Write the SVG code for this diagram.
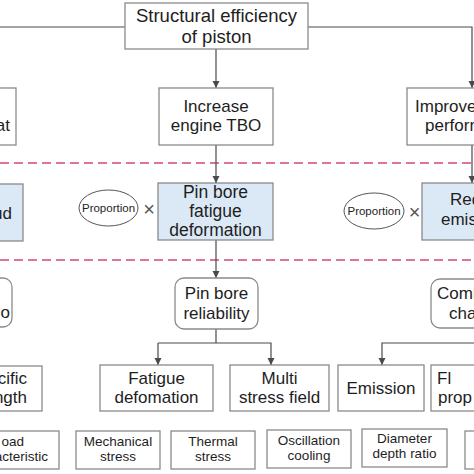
<svg xmlns="http://www.w3.org/2000/svg" width="474" height="474" viewBox="0 0 474 474">
<defs>
<marker id="arr" viewBox="0 0 10 10" refX="10" refY="5" markerWidth="7" markerHeight="9" orient="auto" markerUnits="userSpaceOnUse">
<path d="M0,0 L10,5 L0,10 z" fill="#4a4a4a"/>
</marker>
<style>
.box{fill:#fff;stroke:#8a8a8a;stroke-width:1.3}
.blue{fill:#dbe8f5;stroke:#8a8a8a;stroke-width:1.3}
.t{font-family:"Liberation Sans",Arial,sans-serif;font-size:17px;fill:#1e1e1e;text-anchor:middle}
.top{font-size:18.5px}
.s{font-size:13.5px}
.p{font-size:11.5px}
.st{text-anchor:start}
.en{text-anchor:end}
.c{fill:none;stroke:#4a4a4a;stroke-width:1.2}
.dash{fill:none;stroke:#d6486f;stroke-width:1.5;stroke-dasharray:9 5}
</style>
</defs>
<rect width="474" height="474" fill="#fff"/>
<g id="separators">
<line class="dash" x1="0" y1="163" x2="474" y2="163"/>
<line class="dash" x1="0" y1="260" x2="474" y2="260"/>
</g>
<g id="connectors">
<line class="c" x1="0" y1="27" x2="125" y2="27"/>
<polyline class="c" points="308,27 472,27 472,88" marker-end="url(#arr)"/>
<line class="c" x1="216" y1="49" x2="216" y2="88" marker-end="url(#arr)"/>
<line class="c" x1="216" y1="145" x2="216" y2="183" marker-end="url(#arr)"/>
<line class="c" x1="472" y1="145" x2="472" y2="183" marker-end="url(#arr)"/>
<line class="c" x1="216" y1="240" x2="216" y2="278" marker-end="url(#arr)"/>
<line class="c" x1="216" y1="329" x2="216" y2="343"/>
<polyline class="c" points="158,343 271,343 271,365" marker-end="url(#arr)"/>
<line class="c" x1="158" y1="343" x2="158" y2="365" marker-end="url(#arr)"/>
<polyline class="c" points="474,343 382,343 382,365" marker-end="url(#arr)"/>
</g>
<g id="n_top">
<rect class="box" x="125" y="3" width="183" height="46"/>
<text class="t top" x="216.5" y="22">Structural efficiency</text>
<text class="t top" x="216.5" y="43">of piston</text>
</g>
<g id="n_left1">
<rect class="box" x="-80" y="88" width="96" height="57"/>
<text class="t en" x="10" y="131">at</text>
</g>
<g id="n_tbo">
<rect class="box" x="159" y="88" width="114" height="57"/>
<text class="t" x="216" y="112">Increase</text>
<text class="t" x="216" y="131">engine TBO</text>
</g>
<g id="n_improve">
<rect class="box" x="407" y="88" width="114" height="57"/>
<text class="t st" x="415" y="112">Improve</text>
<text class="t st" x="425" y="131">perform</text>
</g>
<g id="n_left2">
<rect class="blue" x="-80" y="184" width="103" height="57"/>
<text class="t en" x="12" y="219">ud</text>
</g>
<g id="n_prop1">
<ellipse cx="108.5" cy="208" rx="29.5" ry="18" fill="#fff" stroke="#555" stroke-width="1"/>
<text class="t p" x="108.5" y="212">Proportion</text>
<text class="t" x="149" y="216" style="font-size:20px;fill:#555">×</text>
</g>
<g id="n_pinfatigue">
<rect class="blue" x="158" y="183" width="115" height="57"/>
<text class="t" x="215.5" y="198" style="font-size:17.5px">Pin bore</text>
<text class="t" x="215.5" y="217" style="font-size:17.5px">fatigue</text>
<text class="t" x="215.5" y="236" style="font-size:17.5px">deformation</text>
</g>
<g id="n_prop2">
<ellipse cx="374" cy="211" rx="30" ry="18" fill="#fff" stroke="#555" stroke-width="1"/>
<text class="t p" x="374" y="215">Proportion</text>
<text class="t" x="414.5" y="219" style="font-size:20px;fill:#555">×</text>
</g>
<g id="n_reduce">
<rect class="blue" x="422" y="183" width="114" height="57"/>
<text class="t st" x="450" y="205">Red</text>
<text class="t st" x="441" y="225">emis</text>
</g>
<g id="n_left3">
<rect class="box" x="-80" y="278" width="92" height="49" rx="9"/>
<text class="t en" x="10" y="318">o</text>
</g>
<g id="n_reliab">
<rect class="box" x="175" y="278" width="83" height="51" rx="9"/>
<text class="t" x="216.5" y="299">Pin bore</text>
<text class="t" x="216.5" y="319">reliability</text>
</g>
<g id="n_comb">
<rect class="box" x="431" y="279" width="100" height="49" rx="9"/>
<text class="t st" x="437" y="299">Comb</text>
<text class="t st" x="449" y="319">cha</text>
</g>
<g id="n_left4">
<rect class="box" x="-60" y="366" width="102" height="45"/>
<text class="t en" x="27" y="384">cific</text>
<text class="t en" x="27" y="403">ngth</text>
</g>
<g id="n_fatigue">
<rect class="box" x="100" y="365" width="113" height="46"/>
<text class="t" x="156.5" y="384">Fatigue</text>
<text class="t" x="156.5" y="403">defomation</text>
</g>
<g id="n_multi">
<rect class="box" x="230" y="365" width="99" height="46"/>
<text class="t" x="279.5" y="384">Multi</text>
<text class="t" x="279.5" y="403">stress field</text>
</g>
<g id="n_emission">
<rect class="box" x="338" y="365" width="86" height="46"/>
<text class="t" x="381" y="394">Emission</text>
</g>
<g id="n_flow">
<rect class="box" x="431" y="365" width="100" height="46"/>
<text class="t st" x="437" y="384">Fl</text>
<text class="t st" x="438" y="403">prop</text>
</g>
<g id="n_load">
<rect class="box" x="-40" y="431" width="99" height="38"/>
<text class="t s en" x="24" y="446">oad</text>
<text class="t s en" x="48" y="461">acteristic</text>
</g>
<g id="n_mech">
<rect class="box" x="76" y="431" width="84" height="38"/>
<text class="t s" x="118" y="446">Mechanical</text>
<text class="t s" x="118" y="461">stress</text>
</g>
<g id="n_thermal">
<rect class="box" x="171" y="431" width="84" height="38"/>
<text class="t s" x="213" y="446">Thermal</text>
<text class="t s" x="213" y="461">stress</text>
</g>
<g id="n_osc">
<rect class="box" x="267" y="430" width="84" height="38"/>
<text class="t s" x="309" y="445">Oscillation</text>
<text class="t s" x="309" y="460">cooling</text>
</g>
<g id="n_diam">
<rect class="box" x="362" y="429" width="85" height="38"/>
<text class="t s" x="404.5" y="443">Diameter</text>
<text class="t s" x="404.5" y="458">depth ratio</text>
</g>
<g id="n_right5">
<rect class="box" x="465" y="431" width="84" height="38"/>
</g>
</svg>
